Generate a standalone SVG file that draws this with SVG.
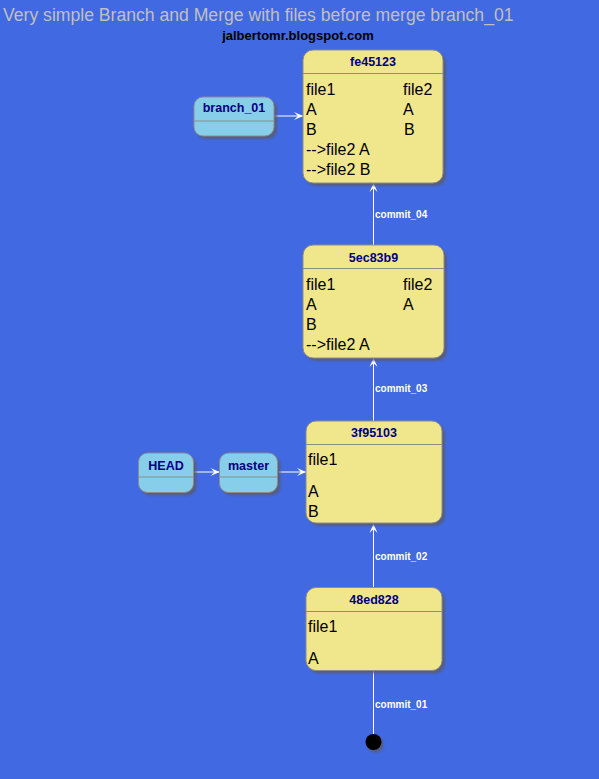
<svg xmlns="http://www.w3.org/2000/svg" width="599" height="779" viewBox="0 0 599 779">
<defs>
<marker id="arr" viewBox="-10 -5 10 10" refX="0" refY="0" markerWidth="10" markerHeight="10" markerUnits="userSpaceOnUse" orient="auto">
<path d="M0,0 L-9,-4 L-5,0 L-9,4 Z" fill="#FFFFFF"/>
</marker>
<filter id="sh" x="-20%" y="-20%" width="150%" height="150%">
<feGaussianBlur stdDeviation="1"/>
</filter>
</defs>
<style>
.commit{fill:#F0E68C;stroke:#8C8C8C;stroke-width:1}
.branch{fill:#87CEEB;stroke:#8C8C8C;stroke-width:1}
.shadow{fill:#5A5A6A;opacity:0.8;filter:url(#sh)}
.sep{stroke:#8C8C8C;stroke-width:1}
.name{font-family:"Liberation Sans",Arial,sans-serif;font-size:12.5px;font-weight:bold;fill:#000080;text-anchor:middle}
.body{font-family:"Liberation Sans",Arial,sans-serif;font-size:16px;fill:#000000}
.lbl{font-family:"Liberation Sans",Arial,sans-serif;font-size:10px;font-weight:bold;fill:#FFFFFF}
.edge{stroke:#FFFFFF;stroke-width:1;fill:none;marker-end:url(#arr)}
</style>
<rect x="0" y="0" width="599" height="779" fill="#4169E1"/>
<text x="3" y="21" font-family="'Liberation Sans',Arial,sans-serif" font-size="17.6" fill="#C0C0C0">Very simple Branch and Merge with files before merge branch_01</text>
<text x="298" y="39.5" font-family="'Liberation Sans',Arial,sans-serif" font-size="13" font-weight="bold" fill="#000000" text-anchor="middle">jalbertomr.blogspot.com</text>

<g id="connectors">
<line class="edge" x1="373.5" y1="734" x2="373.5" y2="588"/>
<line class="edge" x1="373.5" y1="587" x2="373.5" y2="524"/>
<line class="edge" x1="373.5" y1="421" x2="373.5" y2="358"/>
<line class="edge" x1="373.5" y1="245" x2="373.5" y2="183"/>
<line class="edge" x1="274" y1="116" x2="303" y2="116"/>
<line class="edge" x1="193.5" y1="472" x2="219.5" y2="472"/>
<line class="edge" x1="277.5" y1="472" x2="306" y2="472"/>
<text class="lbl" x="375" y="707.5">commit_01</text>
<text class="lbl" x="375" y="560">commit_02</text>
<text class="lbl" x="375" y="392">commit_03</text>
<text class="lbl" x="375" y="217.5">commit_04</text>
</g>

<g id="start">
<circle cx="375.5" cy="744.5" r="8" class="shadow"/>
<circle cx="373.5" cy="742" r="8" fill="#000000"/>
</g>

<g id="c48ed828">
<rect class="shadow" x="309" y="590.5" width="136" height="83" rx="10"/>
<rect class="commit" x="306" y="587.5" width="136" height="83" rx="10"/>
<line class="sep" x1="306" y1="611.5" x2="442" y2="611.5"/>
<text class="name" x="374" y="604">48ed828</text>
<text class="body" x="308" y="632">file1</text>
<text class="body" x="308" y="664">A</text>
</g>

<g id="c3f95103">
<rect class="shadow" x="309" y="424" width="136" height="102" rx="10"/>
<rect class="commit" x="306" y="421" width="136" height="102" rx="10"/>
<line class="sep" x1="306" y1="444.5" x2="442" y2="444.5"/>
<text class="name" x="374" y="437">3f95103</text>
<text class="body" x="308" y="464.5">file1</text>
<text class="body" x="308" y="496.5">A</text>
<text class="body" x="308" y="516.5">B</text>
</g>

<g id="c5ec83b9">
<rect class="shadow" x="306" y="248" width="141" height="113" rx="10"/>
<rect class="commit" x="303" y="245" width="141" height="113" rx="10"/>
<line class="sep" x1="303" y1="268.5" x2="444" y2="268.5"/>
<text class="name" x="373.5" y="262">5ec83b9</text>
<text class="body" x="306" y="290">file1</text>
<text class="body" x="403" y="290">file2</text>
<text class="body" x="306" y="310">A</text>
<text class="body" x="403" y="310">A</text>
<text class="body" x="306" y="330">B</text>
<text class="body" x="306" y="350">--&gt;file2 A</text>
</g>

<g id="cfe45123">
<rect class="shadow" x="306" y="53" width="140" height="133" rx="10"/>
<rect class="commit" x="303" y="50" width="140" height="133" rx="10"/>
<line class="sep" x1="303" y1="73.5" x2="443" y2="73.5"/>
<text class="name" x="373" y="66">fe45123</text>
<text class="body" x="306" y="94.5">file1</text>
<text class="body" x="403" y="94.5">file2</text>
<text class="body" x="306" y="114.5">A</text>
<text class="body" x="403" y="114.5">A</text>
<text class="body" x="306" y="134.5">B</text>
<text class="body" x="404" y="134.5">B</text>
<text class="body" x="306" y="155">--&gt;file2 A</text>
<text class="body" x="306" y="175">--&gt;file2 B</text>
</g>

<g id="branch_01">
<rect class="shadow" x="197" y="100" width="80" height="39" rx="9"/>
<rect class="branch" x="194" y="97" width="80" height="39" rx="9"/>
<line class="sep" x1="194" y1="121" x2="274" y2="121"/>
<text class="name" x="234" y="112">branch_01</text>
</g>

<g id="HEAD">
<rect class="shadow" x="141.5" y="456" width="55" height="39.5" rx="9"/>
<rect class="branch" x="138.5" y="453" width="55" height="39.5" rx="9"/>
<line class="sep" x1="138.5" y1="477" x2="193.5" y2="477"/>
<text class="name" x="166" y="469.5">HEAD</text>
</g>

<g id="master">
<rect class="shadow" x="222.5" y="456" width="58" height="39.5" rx="9"/>
<rect class="branch" x="219.5" y="453" width="58" height="39.5" rx="9"/>
<line class="sep" x1="219.5" y1="477" x2="277.5" y2="477"/>
<text class="name" x="248.5" y="469.5">master</text>
</g>
</svg>
